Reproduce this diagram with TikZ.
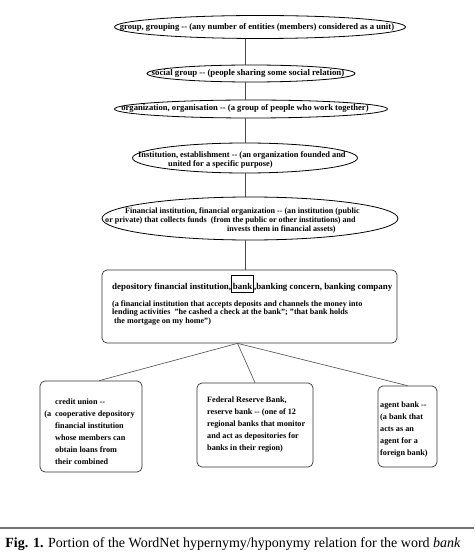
\documentclass[tikz,border=0pt]{standalone}
\usepackage{fontspec}
\setmainfont{Liberation Serif}
\usetikzlibrary{shapes.geometric}
\tikzset{
  ell/.style={draw=black, line width=0.8pt, ellipse, inner sep=0pt},
  boxn/.style={draw=black!80, line width=0.7pt, rounded corners=5pt, inner sep=0pt},
  txt/.style={inner sep=0pt, font=\fontsize{8.6}{9.5}\selectfont\bfseries},
  btxt/.style={inner sep=0pt, align=left, anchor=north west, font=\fontsize{8.2}{12}\selectfont\bfseries},
  conn/.style={draw=black!70, line width=0.6pt},
}
\begin{document}
\begin{tikzpicture}[x=1pt,y=-1pt]
\useasboundingbox (0,0) rectangle (474,553);
\coordinate (spine) at (245,0);
% ellipses
\node[ell, minimum width=291pt, minimum height=23pt] (e1) at (260,27) {};
\node[txt] (t1) at (257,27) {group, grouping -{}- (any number of entities (members) considered as a unit)};
\node[ell, minimum width=208pt, minimum height=17pt] (e2) at (251,73.5) {};
\node[txt, font=\fontsize{8.8}{9.5}\selectfont\bfseries] (t2) at (248,73) {social group -{}- (people sharing some social relation)};
\node[ell, minimum width=273pt, minimum height=18pt] (e3) at (251,109) {};
\node[txt] (t3) at (245,108) {organization, organisation -{}- (a group of people who work together)};
\node[ell, minimum width=225pt, minimum height=30pt] (e4) at (245,158) {};
\node[txt, align=left, anchor=north west, font=\fontsize{8.4}{9.8}\selectfont\bfseries] (t4) at (138,151) {Institution, establishment -{}- (an organization founded and\\\hspace*{30pt}united for a specific purpose)};
\node[ell, minimum width=296pt, minimum height=43pt] (e5) at (250,218.5) {};
\node[txt, align=left, anchor=north west, font=\fontsize{8.1}{9}\selectfont\bfseries] (t5) at (105,208) {\hspace*{20pt}Financial institution, financial organization -{}- (an institution (public\\or private) that collects funds\ \ (from the public or other institutions) and\\\hspace*{122pt}invests them in financial assets)};
% rectangle
\node[boxn, minimum width=295pt, minimum height=73pt] (r) at (249.5,306.5) {};
\setlength{\fboxsep}{1.2pt}\setlength{\fboxrule}{0.6pt}
\node[txt, align=left, anchor=north west, font=\fontsize{8.1}{8.6}\selectfont\bfseries] (rt) at (112,274.5) {{\fontsize{8.9}{8.6}\selectfont depository financial institution,\fbox{\rule[-2pt]{0pt}{14.5pt}bank},banking concern, banking company}\\[6.5pt](a financial institution that accepts deposits and channels the money into\\lending activities\ \ "he cashed a check at the bank"; "that bank holds\\\ the mortgage on my home")};
% bottom boxes
\node[boxn, minimum width=102pt, minimum height=91pt] (b1) at (91,426.5) {};
\node[btxt] (bt1) at (55,398.5) {credit union -{}-\\\llap{(a\ \ }cooperative depository\\financial institution\\whose members can\\obtain loans from\\their combined};
\node[boxn, minimum width=116pt, minimum height=84pt] (b2) at (255,425) {};
\node[btxt] (bt2) at (207,397) {Federal Reserve Bank,\\reserve bank -{}- (one of 12\\regional banks that monitor\\and act as depositories for\\banks in their region)};
\node[boxn, minimum width=59pt, minimum height=81pt] (b3) at (407.5,426.5) {};
\node[btxt] (bt3) at (380,402) {agent bank -{}-\\(a bank that\\acts as an\\agent for a\\foreign bank)};
% connectors
\draw[conn] (e1.south -| spine) -- (e2.north -| spine);
\draw[conn] (e2.south -| spine) -- (e3.north -| spine);
\draw[conn] (e3.south -| spine) -- (e4.north -| spine);
\draw[conn] (e4.south -| spine) -- (e5.north -| spine);
\draw[conn] (e5.south -| spine) -- (r.north -| spine);
\draw[conn] (r.252) -- (b1.80);
\draw[conn] (r.252) -- (b2.north);
\draw[conn] (r.252) -- (b3.north);
% caption
\draw[black!55, line width=1.3pt] (0,528) -- (474,528);
\node[inner sep=0pt, font=\fontsize{14}{16}\selectfont] (cap) at (233,544) {\textbf{Fig. 1.} Portion of the WordNet hypernymy/hyponymy relation for the word \textit{bank}};
\end{tikzpicture}
\end{document}
